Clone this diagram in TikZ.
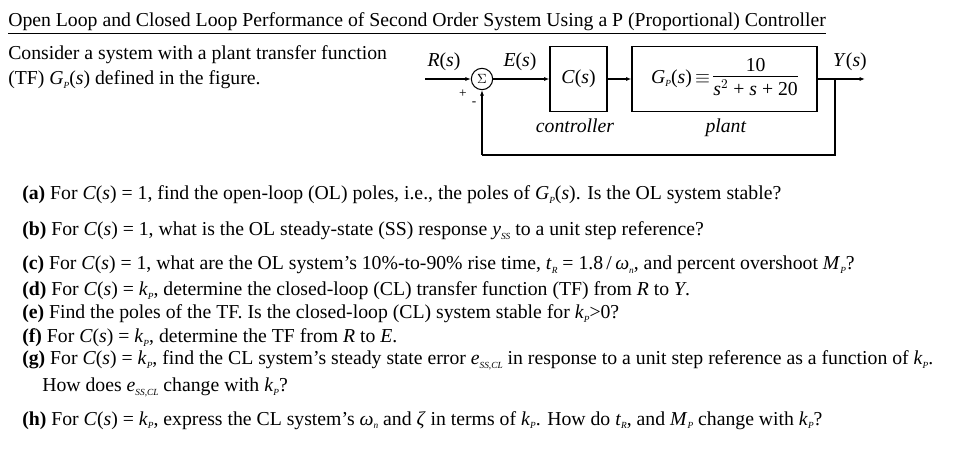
\documentclass[tikz,border=0pt]{standalone}
\usepackage{fontspec}
\setmainfont{Liberation Serif}
\usetikzlibrary{arrows.meta}
\newcommand{\I}[1]{\textit{#1}}
\newcommand{\sbs}[1]{\raisebox{-0.35ex}{\scriptsize\textit{#1}}}
\newcommand{\bodyfont}{\fontsize{14.8pt}{17pt}\selectfont}
\tikzset{
  txt/.style={anchor=base west,inner sep=0pt,font=\bodyfont},
  blk/.style={draw,thick,minimum height=48.75pt,inner sep=0pt},
  lab/.style={inner sep=0pt,font=\bodyfont},
  sig/.style={thick,-{Latex[length=4pt,width=3pt]}},
  ln/.style={thick}
}
\begin{document}
\begin{tikzpicture}[x=0.75pt,y=-0.75pt]
\useasboundingbox (0,0) rectangle (967,459);
% title and intro
\node[txt] (title) at (8,27) {\underline{Open Loop and Closed Loop Performance of Second Order System Using a P (Proportional) Controller}};
\node[txt] (i1) at (8,60) {Consider a system with a plant transfer function};
\node[txt] (i2) at (8,85) {(TF) \I{G}\sbs{P}(\I{s}) defined in the figure.};
% block diagram
\node[draw,thick,circle,minimum size=16pt,inner sep=0pt,font=\normalsize] (sum) at (482,79) {$\Sigma$};
\coordinate (rin) at (425,79);
\node[blk,minimum width=42.75pt] (C) at (578.5,79) {\bodyfont \I{C}(\I{s})};
\node[blk,minimum width=138.75pt] (G) at (724.5,79) {\bodyfont \I{G}\sbs{P}(\I{s})\,$\equiv$\,\begin{tabular}{@{}c@{}}10\\[-2pt]\hline\rule{0pt}{14pt}\I{s}$^2$ + \I{s} + 20\end{tabular}};
\coordinate (tap) at (835,79);
\coordinate (yout) at (865,79);
\coordinate (fb1) at (835,155);
\coordinate (fb2) at (482,155);
\draw[sig] (rin) -- (sum);
\draw[sig] (sum) -- (C);
\draw[sig] (C) -- (G);
\draw[sig] (G) -- (yout);
\draw[ln] (tap) -- (fb1) -- (fb2);
\draw[sig] (fb2) -- (sum);
\node[lab,anchor=base] (Rl) at (444,67) {\I{R}(\I{s})};
\node[lab,anchor=base] (El) at (520,67) {\I{E}(\I{s})};
\node[lab,anchor=base] (Yl) at (850,67) {\I{Y}(\I{s})};
\node[lab,anchor=base,font=\normalsize] (plus) at (463,98) {+};
\node[lab,anchor=base,font=\normalsize] (minus) at (474,106) {-};
\node[lab,anchor=base] (ctl) at (575,133) {\I{controller}};
\node[lab,anchor=base] (pl) at (726,133) {\I{plant}};
% questions
\node[txt] (qa) at (22,200) {\textbf{(a)} For \I{C}(\I{s}) = 1, find the open-loop (OL) poles, i.e., the poles of \I{G}\sbs{P}(\I{s}). Is the OL system stable?};
\node[txt] (qb) at (22,236) {\textbf{(b)} For \I{C}(\I{s}) = 1, what is the OL steady-state (SS) response \I{y}\sbs{SS} to a unit step reference?};
\node[txt] (qc) at (22,270) {\textbf{(c)} For \I{C}(\I{s}) = 1, what are the OL system’s 10\%-to-90\% rise time, \I{t}\sbs{R} = 1.8\,/\,\I{ω}\sbs{n}, and percent overshoot \I{M}\sbs{P}?};
\node[txt] (qd) at (22,296) {\textbf{(d)} For \I{C}(\I{s}) = \I{k}\sbs{P}, determine the closed-loop (CL) transfer function (TF) from \I{R} to \I{Y}.};
\node[txt] (qe) at (22,319) {\textbf{(e)} Find the poles of the TF. Is the closed-loop (CL) system stable for \I{k}\sbs{P}>0?};
\node[txt] (qf) at (22,343) {\textbf{(f)} For \I{C}(\I{s}) = \I{k}\sbs{P}, determine the TF from \I{R} to \I{E}.};
\node[txt] (qg) at (22,365) {\textbf{(g)} For \I{C}(\I{s}) = \I{k}\sbs{P}, find the CL system’s steady state error \I{e}\sbs{SS,CL} in response to a unit step reference as a function of \I{k}\sbs{P}.};
\node[txt] (qg2) at (42,392) {How does \I{e}\sbs{SS,CL} change with \I{k}\sbs{P}?};
\node[txt] (qh) at (22,425) {\textbf{(h)} For \I{C}(\I{s}) = \I{k}\sbs{P}, express the CL system’s \I{ω}\sbs{n} and \I{ζ} in terms of \I{k}\sbs{P}. How do \I{t}\sbs{R}, and \I{M}\sbs{P} change with \I{k}\sbs{P}?};
\end{tikzpicture}
\end{document}
